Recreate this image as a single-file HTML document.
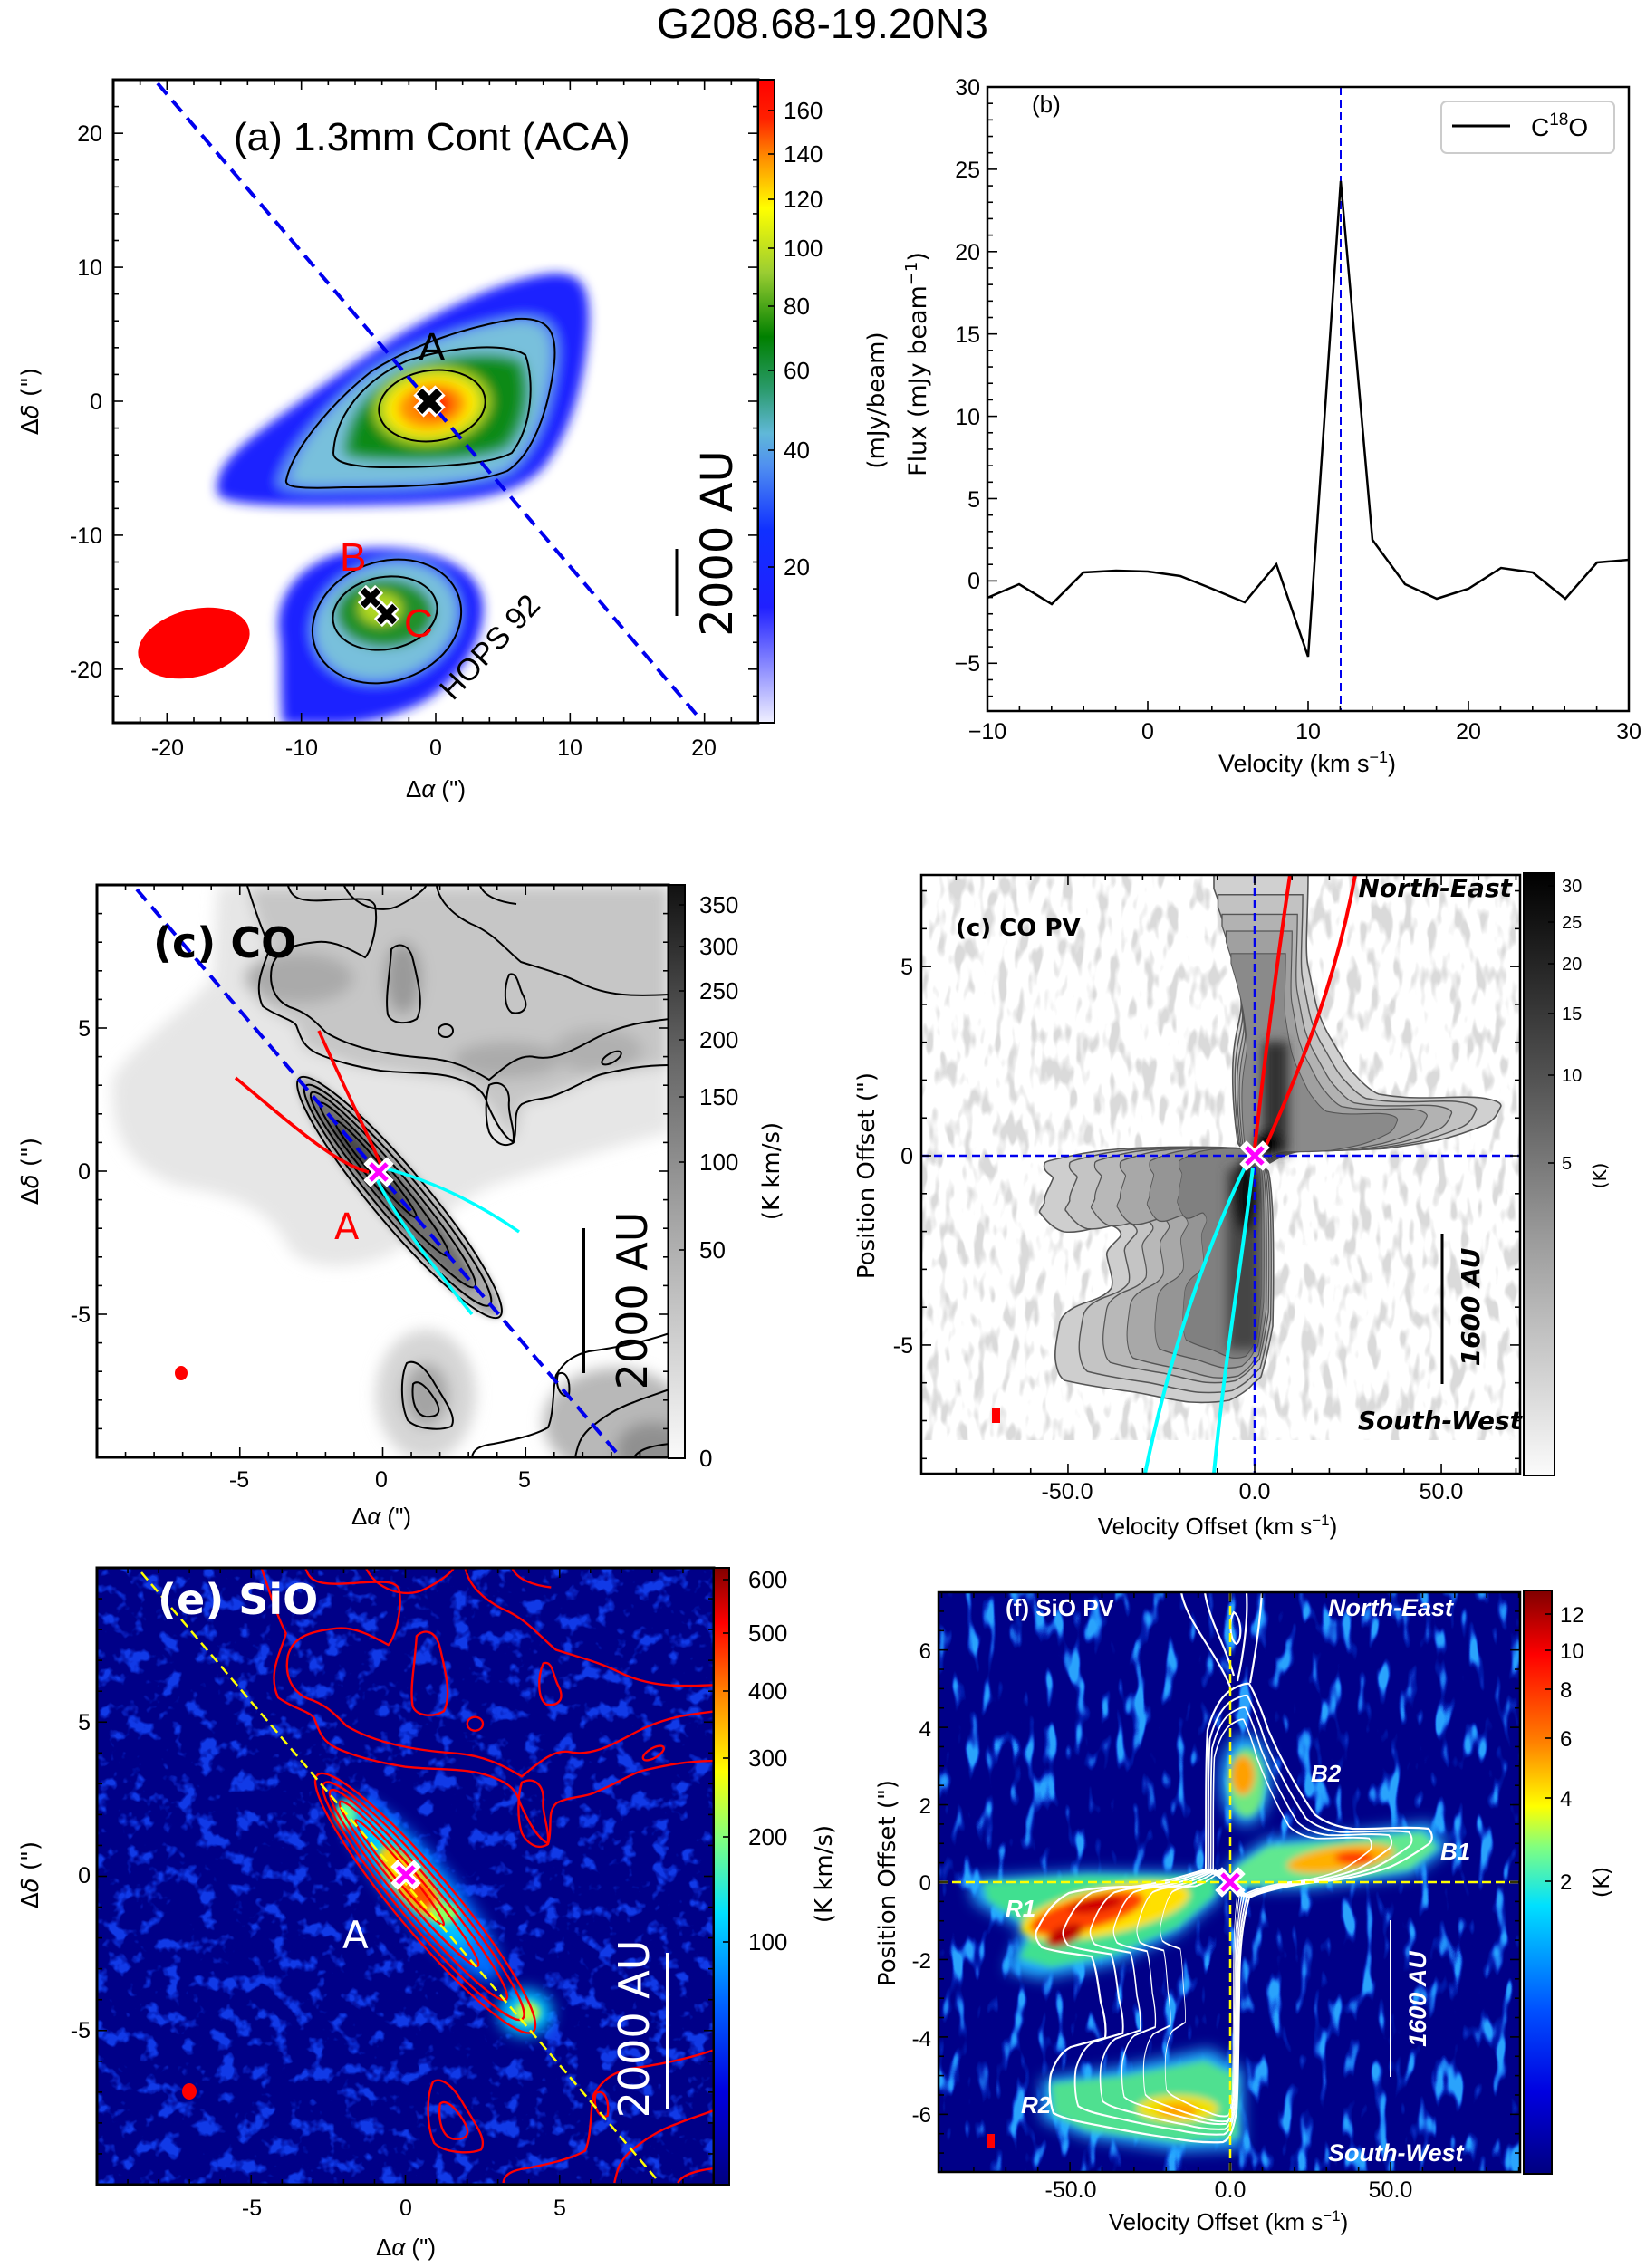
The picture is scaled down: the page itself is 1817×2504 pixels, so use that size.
<!DOCTYPE html>
<html><head><meta charset="utf-8"><style>
html,body{margin:0;padding:0;background:#fff}
svg{display:block}
text{font-family:"Liberation Sans",sans-serif}
.dj{font-family:"DejaVu Sans","Liberation Sans",sans-serif}
</style></head><body>
<svg id="s" width="1817" height="2504" viewBox="0 0 1817 2504" xmlns="http://www.w3.org/2000/svg">
<defs>
<filter id="b4" x="-20%" y="-20%" width="140%" height="140%"><feGaussianBlur stdDeviation="4"/></filter>
<filter id="b6" x="-30%" y="-30%" width="160%" height="160%"><feGaussianBlur stdDeviation="6"/></filter>
<filter id="b8" x="-30%" y="-30%" width="160%" height="160%"><feGaussianBlur stdDeviation="8"/></filter>
<filter id="b12" x="-30%" y="-30%" width="160%" height="160%"><feGaussianBlur stdDeviation="12"/></filter>
<filter id="nzE" x="0" y="0" width="100%" height="100%"><feTurbulence type="fractalNoise" baseFrequency="0.05" numOctaves="3" seed="5" result="t"/><feColorMatrix in="t" type="matrix" values="0 0 0 0 0 0 0 0 0 0 0 0 0 0 0 6 0 0 0 -3.25" result="a"/><feFlood flood-color="#1448ff"/><feComposite in2="a" operator="in"/></filter>
<filter id="nzF" x="0" y="0" width="100%" height="100%"><feTurbulence type="fractalNoise" baseFrequency="0.06 0.022" numOctaves="2" seed="9" result="t"/><feColorMatrix in="t" type="matrix" values="0 0 0 0 0 0 0 0 0 0 0 0 0 0 0 6 0 0 0 -3.3" result="a"/><feFlood flood-color="#1058ff"/><feComposite in2="a" operator="in"/></filter>
<filter id="nzF2" x="0" y="0" width="100%" height="100%"><feTurbulence type="fractalNoise" baseFrequency="0.06 0.022" numOctaves="2" seed="9" result="t"/><feColorMatrix in="t" type="matrix" values="0 0 0 0 0 0 0 0 0 0 0 0 0 0 0 9 0 0 0 -5.6" result="a"/><feFlood flood-color="#30b8ff"/><feComposite in2="a" operator="in"/></filter>
<filter id="nzD" x="0" y="0" width="100%" height="100%"><feTurbulence type="fractalNoise" baseFrequency="0.08 0.03" numOctaves="2" seed="2" result="t"/><feColorMatrix in="t" type="matrix" values="0 0 0 0 0 0 0 0 0 0 0 0 0 0 0 6 0 0 0 -3.1" result="a"/><feFlood flood-color="#dadada"/><feComposite in2="a" operator="in"/></filter>
<linearGradient id="cbA" x1="0" y1="0" x2="0" y2="1">
<stop offset="0" stop-color="#ff0000"/><stop offset="0.06" stop-color="#ff2000"/><stop offset="0.12" stop-color="#ff8c00"/><stop offset="0.2" stop-color="#ffff00"/><stop offset="0.3" stop-color="#9acd32"/><stop offset="0.4" stop-color="#008000"/><stop offset="0.48" stop-color="#2a9a6a"/><stop offset="0.55" stop-color="#60b8d8"/><stop offset="0.6" stop-color="#5090f0"/><stop offset="0.7" stop-color="#1030ff"/><stop offset="0.82" stop-color="#2020ff"/><stop offset="1" stop-color="#f0f0ff"/></linearGradient>
<linearGradient id="cbC" x1="0" y1="0" x2="0" y2="1"><stop offset="0" stop-color="#111"/><stop offset="0.3" stop-color="#666"/><stop offset="0.6" stop-color="#a8a8a8"/><stop offset="1" stop-color="#fafafa"/></linearGradient>
<linearGradient id="cbD" x1="0" y1="0" x2="0" y2="1"><stop offset="0" stop-color="#000"/><stop offset="0.35" stop-color="#555"/><stop offset="0.6" stop-color="#999"/><stop offset="1" stop-color="#fbfbfb"/></linearGradient>
<linearGradient id="cbE" x1="0" y1="0" x2="0" y2="1"><stop offset="0" stop-color="#800000"/><stop offset="0.09" stop-color="#ff0000"/><stop offset="0.2" stop-color="#ff8000"/><stop offset="0.33" stop-color="#ffff00"/><stop offset="0.44" stop-color="#80ff80"/><stop offset="0.56" stop-color="#00e0ff"/><stop offset="0.71" stop-color="#0060ff"/><stop offset="0.85" stop-color="#0000e0"/><stop offset="1" stop-color="#000080"/></linearGradient>
<linearGradient id="cbF" x1="0" y1="0" x2="0" y2="1"><stop offset="0" stop-color="#800000"/><stop offset="0.11" stop-color="#ff0000"/><stop offset="0.26" stop-color="#ff8000"/><stop offset="0.37" stop-color="#ffff00"/><stop offset="0.44" stop-color="#80ff80"/><stop offset="0.54" stop-color="#00e0ff"/><stop offset="0.72" stop-color="#0050ff"/><stop offset="0.86" stop-color="#0000e0"/><stop offset="1" stop-color="#000080"/></linearGradient>
<clipPath id="cA"><rect x="125" y="88" width="712" height="710"/></clipPath>
<clipPath id="cB"><rect x="1090" y="96" width="708" height="689"/></clipPath>
<clipPath id="cC"><rect x="107" y="977" width="631" height="632"/></clipPath>
<clipPath id="cD"><rect x="1017" y="966" width="661" height="661"/></clipPath>
<clipPath id="cE"><rect x="107" y="1731" width="681" height="681"/></clipPath>
<clipPath id="cF"><rect x="1036" y="1758" width="642" height="640"/></clipPath>
<g id="coCont" fill="none">
<path d="M273,978 C280,1000 290,1030 298,1045 C295,1060 278,1085 290,1111 C305,1122 322,1125 327,1132 C332,1145 334,1155 350,1163 C370,1172 395,1178 420,1182 C454,1186 487,1182 513,1194 C530,1200 536,1210 538,1219 C545,1235 555,1255 567,1261 C572,1245 565,1228 576,1219 C590,1212 605,1214 618,1207 C640,1198 650,1190 664,1186 C690,1180 710,1176 739,1176"/>
<path d="M318,978 C322,990 328,996 360,994 C395,992 410,990 414,1000 C418,1020 410,1050 403,1057 C390,1050 370,1038 350,1040 C320,1043 305,1050 300,1068 C296,1090 305,1105 320,1112 C340,1118 350,1130 360,1140 C390,1158 430,1165 470,1168 C500,1170 520,1180 540,1192 C555,1180 572,1163 590,1167 C615,1172 640,1155 660,1145 C690,1130 715,1128 739,1125"/>
<path d="M380,978 C390,1000 420,1010 440,1000 C460,990 470,980 470,978"/>
<path d="M432,1048 C440,1040 452,1042 456,1060 C462,1085 468,1110 460,1125 C448,1132 432,1130 428,1120 C425,1100 430,1080 432,1048Z"/>
<ellipse cx="492" cy="1138" rx="8" ry="7"/>
<ellipse cx="675" cy="1168" rx="12" ry="5" transform="rotate(-30 675 1168)"/>
<path d="M562,1076 C572,1072 572,1090 578,1100 C585,1115 575,1120 565,1118 C556,1112 556,1090 562,1076Z"/>
<path d="M540,1198 C552,1192 562,1200 562,1215 C560,1230 570,1250 566,1262 C555,1268 545,1260 540,1250 C535,1235 536,1210 540,1198Z"/>
<path d="M482,978 C485,995 500,1010 520,1020 C545,1030 560,1050 575,1062 C600,1070 620,1075 640,1085 C670,1100 700,1100 739,1098"/>
<path d="M530,978 C535,990 552,996 570,998"/>
<path d="M449,1505 C458,1500 470,1510 480,1528 C492,1548 505,1565 498,1575 C485,1580 460,1578 450,1568 C442,1550 442,1520 449,1505Z"/>
<path d="M456,1528 C462,1522 472,1532 480,1545 C488,1558 485,1565 470,1564 C458,1562 454,1545 456,1528Z"/>
<path d="M521,1609 C522,1600 530,1596 545,1594 C565,1590 590,1585 605,1576 C612,1560 610,1530 614,1518 C622,1505 630,1497 650,1492 C680,1488 710,1482 739,1472"/>
<path d="M635,1609 C638,1595 640,1588 650,1578 C665,1565 680,1555 700,1548 C715,1542 728,1538 739,1534"/>
<path d="M700,1609 C705,1600 720,1596 739,1594"/>
<path d="M616,1517 C625,1512 630,1525 628,1540 C620,1545 612,1530 616,1517Z"/>
<g transform="rotate(50 441 1322)">
<ellipse cx="441" cy="1322" rx="172" ry="30"/>
<ellipse cx="438" cy="1322" rx="158" ry="24"/>
<ellipse cx="430" cy="1322" rx="140" ry="18"/>
<ellipse cx="415" cy="1322" rx="110" ry="12"/>
<ellipse cx="400" cy="1322" rx="70" ry="7"/>
</g>
</g>
<g id="crossM"><path d="M-9,-9 L9,9 M9,-9 L-9,9" stroke="#fff" stroke-width="11" stroke-linecap="square"/><path d="M-9,-9 L9,9 M9,-9 L-9,9" stroke="#ff00ff" stroke-width="5"/></g>
<g id="crossK"><path d="M-12,-12 L12,12 M12,-12 L-12,12" stroke="#fff" stroke-width="16"/><path d="M-11,-11 L11,11 M11,-11 L-11,11" stroke="#000" stroke-width="9"/></g>
<path id="dNE" d="M1359,966 L1444,966 C1444,1010 1440,1050 1444,1067 C1450,1095 1452,1110 1457,1122 C1462,1135 1466,1142 1470,1148 C1480,1165 1488,1180 1496,1187 C1506,1198 1514,1205 1522,1208 C1545,1212 1560,1212 1574,1212 C1600,1212 1620,1210 1635,1212 C1650,1214 1660,1218 1656,1223 C1652,1232 1648,1238 1639,1242 C1620,1250 1600,1256 1587,1259 C1560,1264 1545,1266 1530,1268 C1500,1270 1470,1270 1444,1270 C1420,1272 1408,1280 1400,1285 L1387,1276 C1372,1270 1366,1265 1366,1259 C1362,1230 1360,1200 1361,1174 C1362,1140 1372,1120 1370,1105 C1368,1080 1365,1060 1361,1045 C1355,1020 1345,995 1340,981 L1340,966Z"/>
<path id="dSW" d="M1374,1268 C1340,1266 1300,1266 1270,1267 C1230,1268 1200,1272 1183,1276 C1165,1280 1152,1282 1153,1285 C1150,1295 1165,1298 1162,1302 C1158,1312 1152,1320 1153,1328 C1150,1334 1145,1338 1149,1340 C1158,1352 1166,1358 1175,1360 C1195,1362 1215,1352 1227,1353 C1235,1356 1240,1362 1236,1366 C1228,1375 1220,1380 1222,1387 C1224,1400 1230,1412 1227,1422 C1220,1432 1205,1436 1196,1439 C1180,1445 1172,1452 1170,1460 C1166,1480 1163,1495 1166,1507 C1168,1516 1170,1520 1175,1524 C1200,1530 1230,1534 1253,1537 C1280,1542 1300,1547 1314,1548 C1330,1549 1345,1548 1357,1546 C1370,1540 1378,1534 1383,1528 C1388,1524 1390,1522 1392,1520 C1398,1500 1402,1480 1405,1464 C1406,1420 1406,1380 1405,1345 C1404,1320 1402,1300 1400,1293Z"/>
<path id="fNE" d="M1331,2064 C1332,2020 1330,1960 1333,1910 C1340,1885 1350,1870 1362,1864 C1370,1860 1376,1858 1379,1859 C1388,1875 1395,1895 1400,1910 C1415,1945 1435,1980 1451,2003 C1462,2012 1475,2017 1493,2019 C1520,2020 1550,2016 1577,2019 C1582,2025 1582,2032 1577,2036 C1560,2048 1548,2055 1535,2061 C1510,2070 1480,2076 1451,2078 C1420,2082 1395,2088 1379,2095 L1358,2078Z"/>
<path id="fSW" d="M1379,2095 C1372,2120 1368,2150 1368,2200 C1367,2260 1367,2300 1365,2330 C1362,2350 1358,2362 1350,2365 C1330,2366 1310,2364 1290,2360 C1260,2356 1240,2352 1220,2348 C1195,2343 1175,2340 1163,2333 C1158,2320 1158,2300 1160,2290 C1165,2275 1172,2265 1182,2260 C1200,2255 1212,2252 1220,2250 C1222,2235 1218,2220 1215,2210 C1212,2190 1210,2172 1205,2160 C1185,2157 1165,2155 1150,2150 C1143,2142 1142,2135 1145,2130 C1155,2110 1165,2098 1180,2090 C1200,2085 1225,2083 1250,2083 C1280,2080 1310,2070 1331,2064 L1358,2078Z"/>
</defs>

<rect width="1817" height="2504" fill="#fff"/>
<text x="908" y="42" font-size="46" text-anchor="middle">G208.68-19.20N3</text>

<!-- ============ PANEL A ============ -->
<g clip-path="url(#cA)">
<g filter="url(#b6)">
<path d="M240,545 C236,520 255,500 295,470 C335,440 385,405 440,370 C500,335 560,308 608,302 C640,300 652,314 650,360 C646,420 630,480 598,518 C568,548 520,555 420,557 C330,559 248,560 240,545Z" fill="#1a22ff"/>
<path d="M305,532 C312,500 355,450 405,410 C455,376 520,356 572,348 C610,346 620,362 617,400 C611,452 594,502 562,524 C520,541 440,543 380,543 C325,545 303,542 305,532Z" fill="#5a8af0"/>
<path d="M322,528 C328,500 362,452 410,414 C458,382 520,363 568,356 C600,354 608,368 606,400 C600,450 586,496 556,517 C518,532 440,534 382,534 C336,536 320,534 322,528Z" fill="#78c0dc"/>
<path d="M378,498 C380,462 405,424 452,403 C500,388 556,385 578,398 C590,425 586,468 562,495 C536,510 470,512 422,510 C390,509 378,505 378,498Z" fill="#30a060"/>
<path d="M388,494 C390,462 412,428 455,408 C500,395 550,392 570,403 C580,428 576,466 555,490 C530,503 470,505 425,503 C396,502 388,500 388,494Z" fill="#108a18"/>
<ellipse cx="477" cy="448" rx="66" ry="44" transform="rotate(-8 477 448)" fill="#a0cc20"/>
<ellipse cx="477" cy="448" rx="52" ry="34" transform="rotate(-8 477 448)" fill="#ffee00"/>
<ellipse cx="477" cy="448" rx="38" ry="25" transform="rotate(-8 477 448)" fill="#ff9000"/>
<ellipse cx="480" cy="446" rx="20" ry="14" fill="#ff2000"/>
<path d="M312,800 C308,760 312,720 308,700 C302,650 342,612 400,606 C468,601 528,622 533,665 C537,705 508,745 478,768 C450,788 400,800 370,800Z" fill="#1a22ff"/>
<ellipse cx="426" cy="686" rx="86" ry="68" transform="rotate(-20 426 686)" fill="#5a8af0"/>
<ellipse cx="426" cy="686" rx="78" ry="60" transform="rotate(-20 426 686)" fill="#78c0dc"/>
<ellipse cx="425" cy="677" rx="54" ry="38" fill="#20902a"/>
<ellipse cx="420" cy="672" rx="24" ry="18" fill="#b0d820"/>
</g>
<g fill="none" stroke="#000" stroke-width="2">
<path d="M316,530 C322,500 360,450 410,410 C460,378 520,360 570,352 C605,350 615,365 612,400 C606,450 590,500 560,520 C520,536 440,538 380,538 C330,540 314,538 316,530Z"/>
<path d="M368,500 C370,460 400,420 450,398 C500,382 560,378 580,392 C590,420 588,470 565,500 C540,514 470,516 420,516 C385,515 368,510 368,500Z"/>
<ellipse cx="477" cy="448" rx="59" ry="39" transform="rotate(-8 477 448)"/>
<ellipse cx="427" cy="686" rx="84" ry="66" transform="rotate(-20 427 686)"/>
<ellipse cx="425" cy="677" rx="58" ry="40" transform="rotate(-10 425 677)"/>
</g>
<ellipse cx="214" cy="710" rx="63" ry="37" transform="rotate(-15 214 710)" fill="#ff0000"/>
<line x1="174" y1="92" x2="774" y2="795" stroke="#0000ee" stroke-width="4" stroke-dasharray="16,9"/>
</g>
<use href="#crossK" x="474" y="443"/>
<use href="#crossK" transform="translate(409,660) scale(0.8)"/>
<use href="#crossK" transform="translate(427,678) scale(0.8)"/>
<text x="258" y="166" font-size="44">(a) 1.3mm Cont (ACA)</text>
<text x="462" y="398" font-size="44">A</text>
<text x="375" y="630" font-size="44" fill="#ff0000">B</text>
<text x="446" y="703" font-size="44" fill="#ff0000">C</text>
<text x="549" y="722" font-size="34" text-anchor="middle" transform="rotate(-47 549 722)">HOPS 92</text>
<line x1="747" y1="606" x2="747" y2="680" stroke="#000" stroke-width="3"/>
<text x="0" y="0" font-size="48" class="dj" text-anchor="middle" transform="translate(808,600) rotate(-90)">2000 AU</text>
<rect x="125" y="88" width="712" height="710" fill="none" stroke="#000" stroke-width="3"/>
<rect x="837" y="88" width="18" height="710" fill="url(#cbA)" stroke="#000" stroke-width="2"/>
<g font-size="26" class="dj">
<text x="865" y="131">160</text><text x="865" y="179">140</text><text x="865" y="229">120</text><text x="865" y="283">100</text><text x="865" y="347">80</text><text x="865" y="418">60</text><text x="865" y="506">40</text><text x="865" y="635">20</text>
</g>
<g font-size="25" text-anchor="end">
<text x="113" y="156">20</text><text x="113" y="304">10</text><text x="113" y="452">0</text><text x="113" y="600">-10</text><text x="113" y="748">-20</text>
</g>
<g font-size="25" text-anchor="middle">
<text x="185" y="834">-20</text><text x="333" y="834">-10</text><text x="481" y="834">0</text><text x="629" y="834">10</text><text x="777" y="834">20</text>
</g>
<text x="481" y="880" font-size="26" text-anchor="middle">Δ<tspan font-style="italic">α</tspan> (")</text>
<text class="dj" font-size="26" text-anchor="middle" transform="translate(42,443) rotate(-90)">Δ<tspan font-style="italic">δ</tspan> (")</text>
<text class="dj" font-size="26" text-anchor="middle" transform="translate(976,442) rotate(-90)">(mJy/beam)</text>

<!-- ============ PANEL B ============ -->
<g clip-path="url(#cB)">
<line x1="1480" y1="96" x2="1480" y2="785" stroke="#0000ee" stroke-width="2" stroke-dasharray="9,5"/>
<polyline fill="none" stroke="#000" stroke-width="2.5" points="1090,660 1125,645 1161,667 1196,632 1232,630 1267,631 1303,636 1338,650 1374,665 1409,623 1444,725 1480,200 1515,596 1551,645 1586,661 1621,650 1657,627 1692,632 1728,661 1763,621 1798,618"/>
</g>
<rect x="1090" y="96" width="708" height="689" fill="none" stroke="#000" stroke-width="2.5"/>
<rect x="1591" y="112" width="191" height="57" rx="6" fill="#fff" stroke="#ccc" stroke-width="2"/>
<line x1="1603" y1="139" x2="1667" y2="139" stroke="#000" stroke-width="3"/>
<text x="1690" y="150" font-size="28">C<tspan font-size="19" dy="-12">18</tspan><tspan dy="12">O</tspan></text>
<text x="1139" y="124" font-size="26">(b)</text>
<g font-size="25" text-anchor="end">
<text x="1082" y="105">30</text><text x="1082" y="196">25</text><text x="1082" y="287">20</text><text x="1082" y="378">15</text><text x="1082" y="469">10</text><text x="1082" y="560">5</text><text x="1082" y="650">0</text><text x="1082" y="741">−5</text>
</g>
<g font-size="25" text-anchor="middle">
<text x="1090" y="816">−10</text><text x="1267" y="816">0</text><text x="1444" y="816">10</text><text x="1621" y="816">20</text><text x="1798" y="816">30</text>
</g>
<text x="1443" y="852" font-size="27" text-anchor="middle">Velocity  (km s<tspan font-size="18" dy="-10">−1</tspan><tspan dy="10">)</tspan></text>
<text class="dj" font-size="27" text-anchor="middle" transform="translate(1022,402) rotate(-90)">Flux (mJy beam<tspan font-size="18" dy="-10">−1</tspan><tspan dy="10">)</tspan></text>

<!-- ============ PANEL C ============ -->
<g clip-path="url(#cC)">
<g filter="url(#b8)">
<path d="M240,977 L235,1080 C200,1120 150,1150 125,1190 C120,1250 140,1290 200,1310 C260,1320 300,1335 320,1380 C340,1400 380,1405 430,1385 C470,1360 500,1330 540,1310 C600,1290 680,1265 739,1250 L739,977Z" fill="#e6e6e6"/>
<path d="M273,978 L285,1020 L298,1045 L281,1095 L290,1111 L327,1132 L336,1157 L395,1178 L454,1186 L513,1194 L538,1219 L567,1261 L576,1219 L618,1207 L664,1186 L739,1177 L739,977Z" fill="#c6c6c6"/>
<ellipse cx="330" cy="1080" rx="60" ry="28" fill="#aaa"/>
<ellipse cx="445" cy="1080" rx="20" ry="40" fill="#9a9a9a"/>
<ellipse cx="560" cy="1170" rx="60" ry="20" fill="#ababab"/>
<ellipse cx="660" cy="1160" rx="50" ry="25" fill="#b0b0b0"/>
<ellipse cx="470" cy="1540" rx="55" ry="72" fill="#d6d6d6"/>
<ellipse cx="470" cy="1540" rx="25" ry="35" fill="#a4a4a4"/>
<ellipse cx="680" cy="1570" rx="80" ry="60" fill="#b8b8b8"/>
<ellipse cx="720" cy="1600" rx="40" ry="30" fill="#909090"/>
</g>
<g filter="url(#b4)">
<ellipse cx="441" cy="1322" rx="172" ry="30" transform="rotate(50 441 1322)" fill="#a8a8a8"/>
<ellipse cx="432" cy="1315" rx="140" ry="19" transform="rotate(50 432 1315)" fill="#707070"/>
<ellipse cx="410" cy="1290" rx="70" ry="10" transform="rotate(50 410 1290)" fill="#484848"/>
</g>
<use href="#coCont" stroke="#000" stroke-width="2"/>
<line x1="151" y1="982" x2="685" y2="1609" stroke="#0000ee" stroke-width="4" stroke-dasharray="16,9"/>
<path d="M260,1190 C320,1240 370,1285 407,1294" fill="none" stroke="#ff0000" stroke-width="3.5"/>
<path d="M352,1138 C375,1190 405,1250 420,1285" fill="none" stroke="#ff0000" stroke-width="3.5"/>
<path d="M426,1290 C480,1305 530,1330 573,1360" fill="none" stroke="#00ffff" stroke-width="3.5"/>
<path d="M416,1302 C440,1350 480,1400 521,1451" fill="none" stroke="#00ffff" stroke-width="3.5"/>
<ellipse cx="200" cy="1516" rx="7" ry="8" fill="#ff0000"/>
</g>
<use href="#crossM" x="418" y="1294"/>
<text x="169" y="1057" font-size="46" font-weight="bold" class="dj">(c) CO</text>
<text x="369" y="1368" font-size="40" fill="#ff0000" class="dj">A</text>
<line x1="644" y1="1356" x2="644" y2="1516" stroke="#000" stroke-width="4"/>
<text class="dj" font-size="46" text-anchor="middle" transform="translate(714,1436) rotate(-90)">2000 AU</text>
<rect x="107" y="977" width="631" height="632" fill="none" stroke="#000" stroke-width="3"/>
<rect x="738" y="977" width="18" height="633" fill="url(#cbC)" stroke="#000" stroke-width="2"/>
<g font-size="26">
<text x="772" y="1008">350</text><text x="772" y="1054">300</text><text x="772" y="1103">250</text><text x="772" y="1157">200</text><text x="772" y="1220">150</text><text x="772" y="1292">100</text><text x="772" y="1389">50</text><text x="772" y="1619">0</text>
</g>
<text class="dj" font-size="26" text-anchor="middle" transform="translate(860,1293) rotate(-90)">(K km/s)</text>
<g font-size="25" text-anchor="end">
<text x="100" y="1144">5</text><text x="100" y="1302">0</text><text x="100" y="1460">-5</text>
</g>
<g font-size="25" text-anchor="middle">
<text x="264" y="1642">-5</text><text x="421" y="1642">0</text><text x="579" y="1642">5</text>
</g>
<text x="421" y="1683" font-size="26" text-anchor="middle">Δ<tspan font-style="italic">α</tspan> (")</text>
<text class="dj" font-size="26" text-anchor="middle" transform="translate(42,1293) rotate(-90)">Δ<tspan font-style="italic">δ</tspan> (")</text>

<!-- ============ PANEL D ============ -->
<g clip-path="url(#cD)">
<rect x="1017" y="966" width="661" height="624" filter="url(#nzD)"/>
<g stroke="#555" stroke-width="1.6">
<use href="#dNE" fill="#d0d0d0"/>
<use href="#dSW" fill="#cecece"/>
<use href="#dNE" fill="#c2c2c2" transform="translate(1385,1276) scale(0.9 0.93) translate(-1385,-1276)"/>
<use href="#dSW" fill="#c4c4c4" transform="translate(1385,1276) scale(0.88 0.96) translate(-1385,-1276)"/>
<use href="#dNE" fill="#b2b2b2" transform="translate(1385,1276) scale(0.8 0.86) translate(-1385,-1276)"/>
<use href="#dSW" fill="#b8b8b8" transform="translate(1385,1276) scale(0.76 0.92) translate(-1385,-1276)"/>
<use href="#dNE" fill="#a0a0a0" transform="translate(1385,1276) scale(0.7 0.8) translate(-1385,-1276)"/>
<use href="#dSW" fill="#a8a8a8" transform="translate(1385,1276) scale(0.64 0.9) translate(-1385,-1276)"/>
<use href="#dNE" fill="#8a8a8a" transform="translate(1385,1276) scale(0.58 0.72) translate(-1385,-1276)"/>
<use href="#dSW" fill="#959595" transform="translate(1385,1276) scale(0.5 0.86) translate(-1385,-1276)"/>
<use href="#dSW" fill="#808080" transform="translate(1385,1276) scale(0.36 0.82) translate(-1385,-1276)"/>
</g>
<g filter="url(#b6)">
<rect x="1394" y="1150" width="28" height="125" fill="#303030"/>
<rect x="1355" y="1290" width="36" height="200" fill="#444"/>
<ellipse cx="1400" cy="1262" rx="14" ry="14" fill="#000"/>
<ellipse cx="1375" cy="1320" rx="14" ry="40" fill="#111"/>
</g>
<line x1="1385" y1="966" x2="1385" y2="1627" stroke="#0000ee" stroke-width="2.5" stroke-dasharray="9,5"/>
<line x1="1017" y1="1276" x2="1678" y2="1276" stroke="#0000ee" stroke-width="2.5" stroke-dasharray="9,5"/>
<path d="M1385,1268 C1395,1180 1410,1060 1424,966" fill="none" stroke="#ff0000" stroke-width="4"/>
<path d="M1396,1268 C1440,1170 1475,1080 1496,966" fill="none" stroke="#ff0000" stroke-width="4"/>
<path d="M1376,1285 C1330,1380 1290,1500 1264,1627" fill="none" stroke="#00ffff" stroke-width="4"/>
<path d="M1383,1289 C1370,1400 1352,1500 1340,1627" fill="none" stroke="#00ffff" stroke-width="4"/>
<rect x="1095" y="1554" width="9" height="17" fill="#ff0000"/>
</g>
<use href="#crossM" x="1385" y="1276"/>
<text x="1055" y="1033" font-size="26" font-weight="bold" class="dj">(c) CO PV</text>
<text x="1669" y="990" font-size="28" font-weight="bold" font-style="italic" text-anchor="end" class="dj">North-East</text>
<text x="1680" y="1578" font-size="28" font-weight="bold" font-style="italic" text-anchor="end" class="dj">South-West</text>
<line x1="1592" y1="1362" x2="1592" y2="1528" stroke="#000" stroke-width="3"/>
<text class="dj" font-size="28" font-weight="bold" font-style="italic" text-anchor="middle" transform="translate(1633,1443) rotate(-90)">1600 AU</text>
<rect x="1017" y="966" width="661" height="661" fill="none" stroke="#000" stroke-width="2.5"/>
<rect x="1682" y="964" width="34" height="665" fill="url(#cbD)" stroke="#000" stroke-width="2"/>
<g font-size="20" class="dj">
<text x="1724" y="985">30</text><text x="1724" y="1025">25</text><text x="1724" y="1071">20</text><text x="1724" y="1126">15</text><text x="1724" y="1194">10</text><text x="1724" y="1291">5</text>
</g>
<text class="dj" font-size="20" text-anchor="middle" transform="translate(1773,1298) rotate(-90)">(K)</text>
<g font-size="25" text-anchor="end">
<text x="1008" y="1076">5</text><text x="1008" y="1285">0</text><text x="1008" y="1494">-5</text>
</g>
<g font-size="25" text-anchor="middle">
<text x="1178" y="1655">-50.0</text><text x="1385" y="1655">0.0</text><text x="1591" y="1655">50.0</text>
</g>
<text x="1344" y="1694" font-size="26" text-anchor="middle">Velocity Offset (km s<tspan font-size="17" dy="-10">−1</tspan><tspan dy="10">)</tspan></text>
<text class="dj" font-size="26" text-anchor="middle" transform="translate(965,1298) rotate(-90)">Position Offset (")</text>

<!-- ============ PANEL E ============ -->
<g clip-path="url(#cE)">
<rect x="107" y="1731" width="681" height="681" fill="#000088"/>
<rect x="107" y="1731" width="681" height="681" filter="url(#nzE)" opacity="0.8"/>
<g filter="url(#b8)">
<ellipse cx="465" cy="2085" rx="130" ry="34" transform="rotate(50 465 2085)" fill="#0070ff"/>
<ellipse cx="455" cy="2075" rx="95" ry="22" transform="rotate(50 455 2075)" fill="#00c8ff"/>
<ellipse cx="580" cy="2222" rx="30" ry="26" fill="#00c0ff"/>
</g>
<g filter="url(#b4)">
<ellipse cx="382" cy="2003" rx="12" ry="16" fill="#60ffa0"/>
<ellipse cx="455" cy="2080" rx="52" ry="18" transform="rotate(50 455 2080)" fill="#ffd000"/>
<ellipse cx="462" cy="2088" rx="30" ry="10" transform="rotate(50 462 2088)" fill="#ff5000"/>
<ellipse cx="490" cy="2112" rx="16" ry="12" fill="#90ff60"/>
<ellipse cx="582" cy="2222" rx="14" ry="12" fill="#c0ff40"/>
</g>
<use href="#coCont" stroke="#ff0000" stroke-width="2.2" transform="translate(448,2070) scale(1.076) translate(-421,-1293)"/>
<line x1="156" y1="1736" x2="724" y2="2405" stroke="#ffff00" stroke-width="2.5" stroke-dasharray="11,6"/>
<ellipse cx="209" cy="2309" rx="8" ry="9" fill="#ff0000"/>
</g>
<use href="#crossM" x="448" y="2070"/>
<text x="174" y="1782" font-size="46" font-weight="bold" fill="#fff" class="dj">(e) SiO</text>
<text x="378" y="2151" font-size="42" fill="#fff" class="dj">A</text>
<line x1="737" y1="2156" x2="737" y2="2328" stroke="#fff" stroke-width="4"/>
<text class="dj" font-size="46" text-anchor="middle" transform="translate(716,2240) rotate(-90)" fill="#fff">2000 AU</text>
<rect x="107" y="1731" width="681" height="681" fill="none" stroke="#000" stroke-width="3"/>
<rect x="788" y="1731" width="17" height="681" fill="url(#cbE)" stroke="#000" stroke-width="2"/>
<g font-size="26">
<text x="826" y="1753">600</text><text x="826" y="1812">500</text><text x="826" y="1876">400</text><text x="826" y="1950">300</text><text x="826" y="2037">200</text><text x="826" y="2153">100</text>
</g>
<text class="dj" font-size="26" text-anchor="middle" transform="translate(918,2069) rotate(-90)">(K km/s)</text>
<g font-size="25" text-anchor="end">
<text x="100" y="1910">5</text><text x="100" y="2079">0</text><text x="100" y="2250">-5</text>
</g>
<g font-size="25" text-anchor="middle">
<text x="278" y="2446">-5</text><text x="448" y="2446">0</text><text x="618" y="2446">5</text>
</g>
<text x="448" y="2490" font-size="26" text-anchor="middle">Δ<tspan font-style="italic">α</tspan> (")</text>
<text class="dj" font-size="26" text-anchor="middle" transform="translate(42,2070) rotate(-90)">Δ<tspan font-style="italic">δ</tspan> (")</text>

<!-- ============ PANEL F ============ -->
<g clip-path="url(#cF)">
<rect x="1036" y="1758" width="642" height="640" fill="#000088"/>
<rect x="1036" y="1758" width="642" height="640" filter="url(#nzF)" opacity="0.9"/>
<rect x="1036" y="1758" width="642" height="640" filter="url(#nzF2)" opacity="0.8"/>
<g filter="url(#b8)">
<path d="M1070,2075 L1200,2066 L1345,2068 L1348,2095 L1300,2135 L1230,2168 L1150,2185 L1110,2175 L1130,2130 L1075,2100Z" fill="#20b0ff"/>
<path d="M1355,2060 L1400,2030 L1480,2025 L1580,2012 L1600,2040 L1560,2070 L1450,2085 L1358,2086Z" fill="#20b0ff"/>
<ellipse cx="1375" cy="1965" rx="28" ry="50" fill="#20b0ff"/>
<path d="M1150,2295 L1240,2282 L1335,2262 L1372,2285 L1372,2372 L1300,2375 L1200,2360 L1150,2340Z" fill="#20b0ff"/>
</g>
<g filter="url(#b4)">
<path d="M1085,2078 L1200,2070 L1341,2072 L1342,2092 L1300,2128 L1230,2158 L1160,2172 L1125,2162 L1140,2130 L1090,2098Z" fill="#40e090"/>
<ellipse cx="1220" cy="2110" rx="95" ry="26" transform="rotate(-12 1220 2110)" fill="#ffe000"/>
<ellipse cx="1200" cy="2112" rx="65" ry="18" transform="rotate(-15 1200 2112)" fill="#ff4000"/>
<ellipse cx="1175" cy="2137" rx="22" ry="10" transform="rotate(-25 1175 2137)" fill="#c00000"/>
<ellipse cx="1210" cy="2103" rx="30" ry="8" transform="rotate(-10 1210 2103)" fill="#d00000"/>
<path d="M1363,2062 L1400,2038 L1480,2032 L1570,2022 L1588,2040 L1556,2064 L1450,2080 L1363,2082Z" fill="#60e890"/>
<ellipse cx="1480" cy="2052" rx="60" ry="14" transform="rotate(-8 1480 2052)" fill="#ffb000"/>
<ellipse cx="1495" cy="2051" rx="22" ry="7" fill="#ff3000"/>
<ellipse cx="1376" cy="1968" rx="20" ry="38" fill="#70e880"/>
<ellipse cx="1372" cy="1960" rx="13" ry="22" fill="#ffa000"/>
<path d="M1160,2300 L1240,2292 L1330,2275 L1365,2292 L1367,2360 L1300,2365 L1200,2352 L1163,2335Z" fill="#50e090"/>
<ellipse cx="1300" cy="2328" rx="45" ry="15" fill="#f0e000"/>
<ellipse cx="1300" cy="2330" rx="22" ry="8" fill="#ffa000"/>
</g>
<g fill="none" stroke="#fff" stroke-width="2.2">
<use href="#fNE"/><use href="#fSW"/>
<use href="#fNE" transform="translate(1358,2078) scale(0.9 0.94) translate(-1358,-2078)"/>
<use href="#fSW" transform="translate(1358,2078) scale(0.86 0.97) translate(-1358,-2078)"/>
<use href="#fNE" transform="translate(1358,2078) scale(0.8 0.88) translate(-1358,-2078)"/>
<use href="#fSW" transform="translate(1358,2078) scale(0.72 0.95) translate(-1358,-2078)"/>
<use href="#fNE" transform="translate(1358,2078) scale(0.7 0.82) translate(-1358,-2078)"/>
<use href="#fSW" transform="translate(1358,2078) scale(0.6 0.93) translate(-1358,-2078)"/>
<use href="#fSW" transform="translate(1358,2078) scale(0.48 0.92) translate(-1358,-2078)"/>
<use href="#fSW" transform="translate(1358,2078) scale(0.36 0.9) translate(-1358,-2078)"/>
<path d="M1304,1758 C1310,1790 1340,1820 1358,1862"/>
<path d="M1330,1758 C1335,1790 1352,1815 1362,1850"/>
<path d="M1393,1758 C1390,1800 1385,1830 1380,1858"/>
<path d="M1376,1758 C1378,1790 1372,1830 1366,1856"/>
<path d="M1362,1780 C1370,1785 1372,1810 1365,1815 C1358,1812 1356,1790 1362,1780Z"/>
</g>
<line x1="1358" y1="1758" x2="1358" y2="2398" stroke="#ffff00" stroke-width="2.5" stroke-dasharray="10,5"/>
<line x1="1036" y1="2078" x2="1678" y2="2078" stroke="#ffff00" stroke-width="2.5" stroke-dasharray="10,5"/>
<rect x="1090" y="2356" width="8" height="16" fill="#ff0000"/>
</g>
<use href="#crossM" x="1358" y="2078"/>
<g font-weight="bold" fill="#fff" class="dj">
<text x="1110" y="1784" font-size="26">(f) SiO PV</text>
<text x="1466" y="1784" font-size="27" font-style="italic">North-East</text>
<text x="1466" y="2386" font-size="27" font-style="italic">South-West</text>
<text x="1447" y="1967" font-size="26" font-style="italic">B2</text>
<text x="1590" y="2053" font-size="26" font-style="italic">B1</text>
<text x="1110" y="2116" font-size="26" font-style="italic">R1</text>
<text x="1127" y="2333" font-size="26" font-style="italic">R2</text>
<text font-size="27" font-style="italic" text-anchor="middle" transform="translate(1574,2207) rotate(-90)">1600 AU</text>
</g>
<line x1="1535" y1="2120" x2="1535" y2="2293" stroke="#fff" stroke-width="2"/>
<rect x="1036" y="1758" width="642" height="640" fill="none" stroke="#000" stroke-width="2.5"/>
<rect x="1682" y="1756" width="31" height="644" fill="url(#cbF)" stroke="#000" stroke-width="2"/>
<g font-size="24">
<text x="1722" y="1791">12</text><text x="1722" y="1831">10</text><text x="1722" y="1874">8</text><text x="1722" y="1928">6</text><text x="1722" y="1994">4</text><text x="1722" y="2086">2</text>
</g>
<text class="dj" font-size="24" text-anchor="middle" transform="translate(1776,2078) rotate(-90)">(K)</text>
<g font-size="24" text-anchor="end">
<text x="1028" y="1831">6</text><text x="1028" y="1917">4</text><text x="1028" y="2002">2</text><text x="1028" y="2087">0</text><text x="1028" y="2173">-2</text><text x="1028" y="2259">-4</text><text x="1028" y="2343">-6</text>
</g>
<g font-size="25" text-anchor="middle">
<text x="1182" y="2426">-50.0</text><text x="1358" y="2426">0.0</text><text x="1535" y="2426">50.0</text>
</g>
<text x="1356" y="2462" font-size="26" text-anchor="middle">Velocity Offset (km s<tspan font-size="17" dy="-10">−1</tspan><tspan dy="10">)</tspan></text>
<text class="dj" font-size="26" text-anchor="middle" transform="translate(988,2079) rotate(-90)">Position Offset (")</text>

<g id="ticks" stroke="#000" stroke-width="1.6"></g>
</svg>
<script>
(function(){
var s='';
function tk(L,R,T,B,xa,xb,ya,yb,xM,xm,yM,ym,top,right){
 var lo=Math.min(xa,xb),hi=Math.max(xa,xb);
 for(var i=Math.ceil(lo/xm-1e-9);i<=Math.floor(hi/xm+1e-9);i++){var v=i*xm;var p=L+(v-xa)/(xb-xa)*(R-L);
  var mj=Math.abs(v/xM-Math.round(v/xM))<1e-6;var l=mj?11:6;
  s+='<line x1="'+p+'" y1="'+B+'" x2="'+p+'" y2="'+(B-l)+'"/>';
  if(top)s+='<line x1="'+p+'" y1="'+T+'" x2="'+p+'" y2="'+(T+l)+'"/>';}
 lo=Math.min(ya,yb);hi=Math.max(ya,yb);
 for(var j=Math.ceil(lo/ym-1e-9);j<=Math.floor(hi/ym+1e-9);j++){var w=j*ym;var q=T+(w-ya)/(yb-ya)*(B-T);
  var mj2=Math.abs(w/yM-Math.round(w/yM))<1e-6;var l2=mj2?11:6;
  s+='<line x1="'+L+'" y1="'+q+'" x2="'+(L+l2)+'" y2="'+q+'"/>';
  if(right)s+='<line x1="'+R+'" y1="'+q+'" x2="'+(R-l2)+'" y2="'+q+'"/>';}
}
tk(125,837,88,798,-24,24,24,-24,10,2,10,2,true,true);
tk(1090,1798,96,785,-10,30,30,-7.9,10,2,5,1,false,false);
tk(107,738,977,1609,-10,10,10,-10,5,1,5,1,true,true);
tk(1017,1678,966,1627,-89.3,71.1,7.42,-8.4,50,10,5,1,true,true);
tk(107,788,1731,2412,-10,10,10,-10,5,1,5,1,true,true);
tk(1036,1678,1758,2398,-91,90.4,7.49,-7.49,50,10,2,0.5,true,true);
function cb(x,ys){ys.forEach(function(y){s+='<line x1="'+(x-7)+'" y1="'+y+'" x2="'+x+'" y2="'+y+'"/>';});}
cb(855,[122,170,220,274,338,409,497,626]);
cb(756,[999,1045,1094,1148,1211,1283,1380,1610]);
cb(1716,[978,1018,1064,1119,1187,1284]);
cb(805,[1744,1803,1867,1941,2028,2144]);
cb(1713,[1782,1822,1865,1919,1985,2077]);
document.getElementById('ticks').innerHTML=s;
})();
</script>
</body></html>
